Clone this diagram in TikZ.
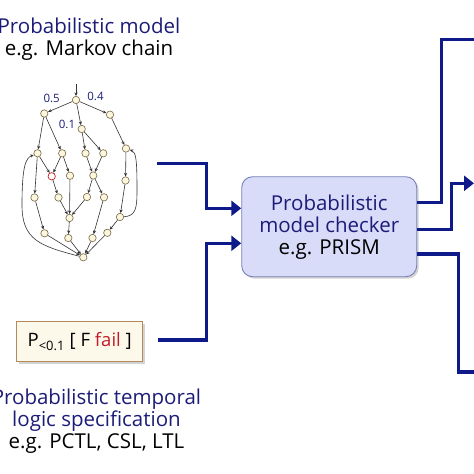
\documentclass[tikz,border=0pt]{standalone}
\usepackage{fontspec}
\setmainfont{Open Sans}
\usetikzlibrary{arrows.meta,positioning,shadows}
\definecolor{navy}{RGB}{28,28,120}
\definecolor{flowblue}{RGB}{14,26,138}
\definecolor{boxfill}{RGB}{216,220,248}
\definecolor{boxline}{RGB}{122,128,184}
\definecolor{cream}{RGB}{253,249,234}
\definecolor{tan}{RGB}{180,138,92}
\definecolor{failred}{RGB}{196,26,42}
\definecolor{statefill}{RGB}{252,246,222}
\definecolor{stateline}{RGB}{118,102,66}

\begin{document}
\begin{tikzpicture}[x=1pt,y=-1pt,
  st/.style={circle, draw=stateline, fill=statefill, line width=0.6pt, minimum size=7.4pt, inner sep=0pt},
  badst/.style={st, draw=red!75!black, fill=white},
  e/.style={-{Stealth[length=3.6pt,width=3.2pt]}, line width=0.6pt, black!80},
  lbl/.style={text=navy, font=\fontsize{11.5}{12}\selectfont, inner sep=0pt},
  big/.style={align=center, font=\fontsize{20.5}{22}\selectfont, inner sep=0pt},
  flow/.style={line width=3.4pt, flowblue},
  flowin/.style={flow, -{Triangle[length=10pt,width=15pt]}}]
\useasboundingbox (0,0) rectangle (474,474);

% texts
\node[big] (mtitle) at (89,39) {\textcolor{navy}{Probabilistic model}\\e.g. Markov chain};
\node[big] (stitle) at (96.5,421) {\textcolor{navy}{Probabilistic temporal}\\\textcolor{navy}{logic specification}\\e.g. PCTL, CSL, LTL};

% Markov chain
\node[st] (s0) at (76,100) {};
\node[st] (s1) at (44.3,113.5) {};
\node[st] (s2) at (110,114.7) {};
\node[st] (s3) at (81.7,129) {};
\node[st] (s4) at (37.5,153.3) {};
\node[st] (s5) at (62.2,153.3) {};
\node[st] (s6) at (85.5,153.3) {};
\node[st] (s7) at (103.3,153.3) {};
\node[st] (s8) at (126,148.5) {};
\node[badst] (s9) at (51.7,176.3) {};
\node[st] (s10) at (70,175.7) {};
\node[st] (s11) at (93.3,175.5) {};
\node[st] (s12) at (125.5,180.5) {};
\node[st] (s13) at (34.5,197.5) {};
\node[st] (s14) at (58.5,197.5) {};
\node[st] (s15) at (87,197) {};
\node[st] (s16) at (104,197.3) {};
\node[st] (s17) at (69.5,218) {};
\node[st] (s18) at (120,217) {};
\node[st] (s19) at (44.5,233.3) {};
\node[st] (s20) at (68.3,238) {};
\node[st] (s21) at (92.5,238) {};
\node[st] (s22) at (107.3,232.8) {};
\node[st] (s23) at (83.3,257.3) {};
\coordinate (init) at (76,84);

\node[lbl] (p5) at (51.7,98) {0.5};
\node[lbl] (p4) at (95.5,96.5) {0.4};
\node[lbl] (p1) at (67,124) {0.1};

\draw[e] (init)--(s0);
\draw[e] (s0)--(s1);
\draw[e] (s0)--(s2);
\draw[e] (s0)--(s3);
\draw[e] (s1)--(s4);
\draw[e] (s1)--(s5);
\draw[e] (s3)--(s6);
\draw[e] (s3)--(s7);
\draw[e] (s2)--(s8);
\draw[e] (s4)--(s9);
\draw[e] (s4)--(s13);
\draw[e] (s5)--(s9);
\draw[e] (s5)--(s10);
\draw[e] (s6)--(s11);
\draw[e] (s7)--(s11);
\draw[e] (s8)--(s12);
\draw[e] (s9)--(s14);
\draw[e] (s10)--(s17);
\draw[e] (s14)--(s17);
\draw[e] (s11)--(s15);
\draw[e] (s11)--(s16);
\draw[e] (s15)--(s17);
\draw[e] (s13)--(s19);
\draw[e] (s17)--(s20);
\draw[e] (s16)--(s21);
\draw[e] (s12)--(s18);
\draw[e] (s18)--(s22);
\draw[e] (s19)--(s23);
\draw[e] (s20)--(s23);
\draw[e] (s21)--(s23);
\draw[e] (s22)--(s23);
\draw[e] (s23) .. controls (40,246) and (22,240) .. (22,205) .. controls (22,165) and (26,158) .. (s4);
\draw[e] (s18) .. controls (136,216) and (137,208) .. (137,190) .. controls (137,160) and (136,152) .. (s8);

% property
\node[draw=tan, fill=cream, line width=0.8pt, minimum width=126pt, minimum height=40pt, inner sep=0pt,
  drop shadow={shadow xshift=2pt, shadow yshift=-2pt, opacity=0.35},
  font=\fontsize{18.5}{20}\selectfont] (spec) at (79.7,341.7)
  {P\textsubscript{<0.1} [ F \textcolor{failred}{fail} ]};

% model checker
\node[draw=boxline, fill=boxfill, line width=0.9pt, rounded corners=11pt, minimum width=175pt, minimum height=100pt,
  drop shadow={shadow xshift=2pt, shadow yshift=-2pt, opacity=0.35}, big] (mc) at (329.2,226.7)
  {\textcolor{navy}{Probabilistic}\\\textcolor{navy}{model checker}\\e.g. PRISM};

\coordinate (gout) at (157,163.3);
\coordinate (sout) at (158.3,340);
\coordinate (o1) at (474,39.3);
\coordinate (o2) at (474,183.3);
\coordinate (o3) at (474,372);

\draw[flowin] (gout) -| (206.7,208.3) -- ([yshift=18.4pt]mc.west);
\draw[flowin] (sout) -| (206.7,243.3) -- ([yshift=-16.6pt]mc.west);
\draw[flow] ([yshift=24.4pt]mc.east) -| (441.7,39.3) -- (o1);
\draw[flowin] ([yshift=-2.6pt]mc.east) -| (451.7,183.3) -- (o2);
\draw[flow] ([yshift=-27.3pt]mc.east) -| (458.3,372) -- (o3);
\end{tikzpicture}
\end{document}
